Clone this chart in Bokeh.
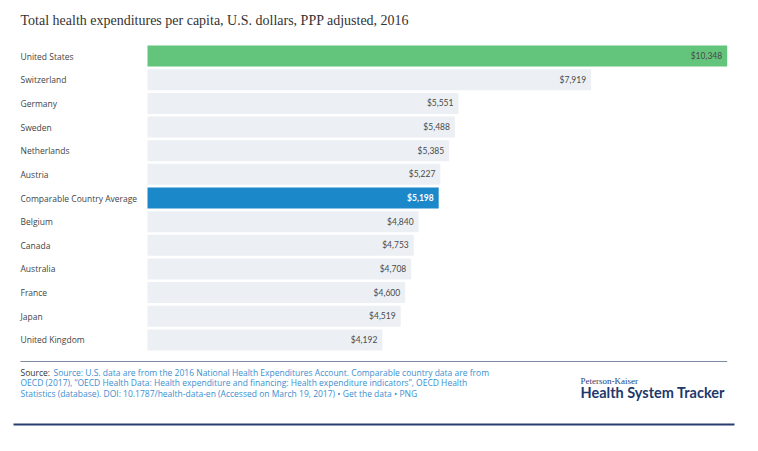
from bokeh.plotting import figure
from bokeh.models import Range1d, Label, BoxAnnotation, ColumnDataSource
from bokeh.core.properties import value
from bokeh.embed import file_html
from bokeh.resources import INLINE

# ---------------- data ----------------
countries = ["United States", "Switzerland", "Germany", "Sweden", "Netherlands",
             "Austria", "Comparable Country Average", "Belgium", "Canada",
             "Australia", "France", "Japan", "United Kingdom"]
spending = [10348, 7919, 5551, 5488, 5385, 5227, 5198, 4840, 4753, 4708, 4600, 4519, 4192]
value_labels = ["$10,348", "$7,919", "$5,551", "$5,488", "$5,385", "$5,227", "$5,198",
                "$4,840", "$4,753", "$4,708", "$4,600", "$4,519", "$4,192"]
title_text = "Total health expenditures per capita, U.S. dollars, PPP adjusted, 2016"
source_label = "Source:"
source_lines = [
    "Source: U.S. data are from the 2016 National Health Expenditures Account. Comparable country data are from",
    "OECD (2017), \u201cOECD Health Data: Health expenditure and financing: Health expenditure indicators\u201d, OECD Health",
    "Statistics (database). DOI: 10.1787/health-data-en (Accessed on March 19, 2017) \u2022 Get the data \u2022 PNG",
]
logo_small = "Peterson-Kaiser"
logo_big = "Health System Tracker"

# ---------------- styling / layout ----------------
GREEN, BLUE, GRAY = "#63c47b", "#1a88c9", "#ecf0f4"
W, H = 742, 435
BAR_X0, BAR_X1 = 147.0, 726.7
ROW0, PITCH = 55.6, 23.65
k = max(spending) / (BAR_X1 - BAR_X0)  # dollars per pixel

colors, tcolors, tstyles = [], [], []
for c in countries:
    if c == "United States":
        colors.append(GREEN); tcolors.append("#4a4a4a"); tstyles.append("normal")
    elif c == "Comparable Country Average":
        colors.append(BLUE); tcolors.append("#ffffff"); tstyles.append("bold")
    else:
        colors.append(GRAY); tcolors.append("#4a4a4a"); tstyles.append("normal")

src = ColumnDataSource(dict(idx=list(range(len(countries))), name=countries,
                            val=spending, vlab=value_labels, color=colors,
                            tcolor=tcolors, tstyle=tstyles))

x_range = Range1d(-BAR_X0 * k, (W - BAR_X0) * k)
y_range = Range1d((H - ROW0) / PITCH, -ROW0 / PITCH)

p = figure(width=W, height=H, x_range=x_range, y_range=y_range, title=None,
           toolbar_location=None, output_backend="svg", min_border=0,
           x_axis_location=None, y_axis_location=None)
p.grid.visible = False
p.outline_line_color = None
p.background_fill_color = "white"
p.border_fill_color = "white"

p.hbar(y="idx", left=0, right="val", height=21 / PITCH, fill_color="color",
       line_color=None, source=src)

p.text(x=x_range.start + 20 * k, y="idx", text="name", source=src,
       text_font=value("Open Sans"), text_font_size="8.5px",
       text_color="#444444", text_baseline="middle", text_align="left")

p.text(x="val", y="idx", text="vlab", source=src, x_offset=-5,
       text_font=value("Lato"), text_font_size="8.5px", text_color="tcolor",
       text_font_style="tstyle", text_baseline="middle", text_align="right")

def lab(x, top, text, **kw):
    p.add_layout(Label(x=x, y=H - top, x_units="screen", y_units="screen",
                       text=text, text_baseline="middle", **kw))

lab(20, 20, title_text, text_font="Liberation Serif", text_font_size="14px",
    text_color="#333333")

def hline(x0, x1, top, thick, color):
    p.add_layout(BoxAnnotation(left=x0, right=x1, top=H - top, bottom=H - top - thick,
                               left_units="screen", right_units="screen",
                               top_units="screen", bottom_units="screen",
                               fill_color=color, fill_alpha=1, line_alpha=0))

hline(20, 726.7, 360.5, 1, "#7e8aa3")
hline(13, 734, 423, 2, "#2a3d70")

lab(20, 371.7, source_label, text_font="Open Sans", text_font_size="8.5px",
    text_color="#333333")
lab(53, 371.7, source_lines[0], text_font="Open Sans", text_font_size="8.5px",
    text_color="#3b8fd0")
lab(20, 382.3, source_lines[1], text_font="Open Sans", text_font_size="8.5px",
    text_color="#3b8fd0")
lab(20, 393.0, source_lines[2], text_font="Open Sans", text_font_size="8.5px",
    text_color="#3b8fd0")

lab(580, 380, logo_small, text_font="Liberation Serif", text_font_size="9px",
    text_color="#2a3d70")
lab(580, 392.3, logo_big, text_font="Lato", text_font_size="14.5px",
    text_font_style="bold", text_color="#22386b")

open("out.html", "w").write(file_html(p, INLINE))
